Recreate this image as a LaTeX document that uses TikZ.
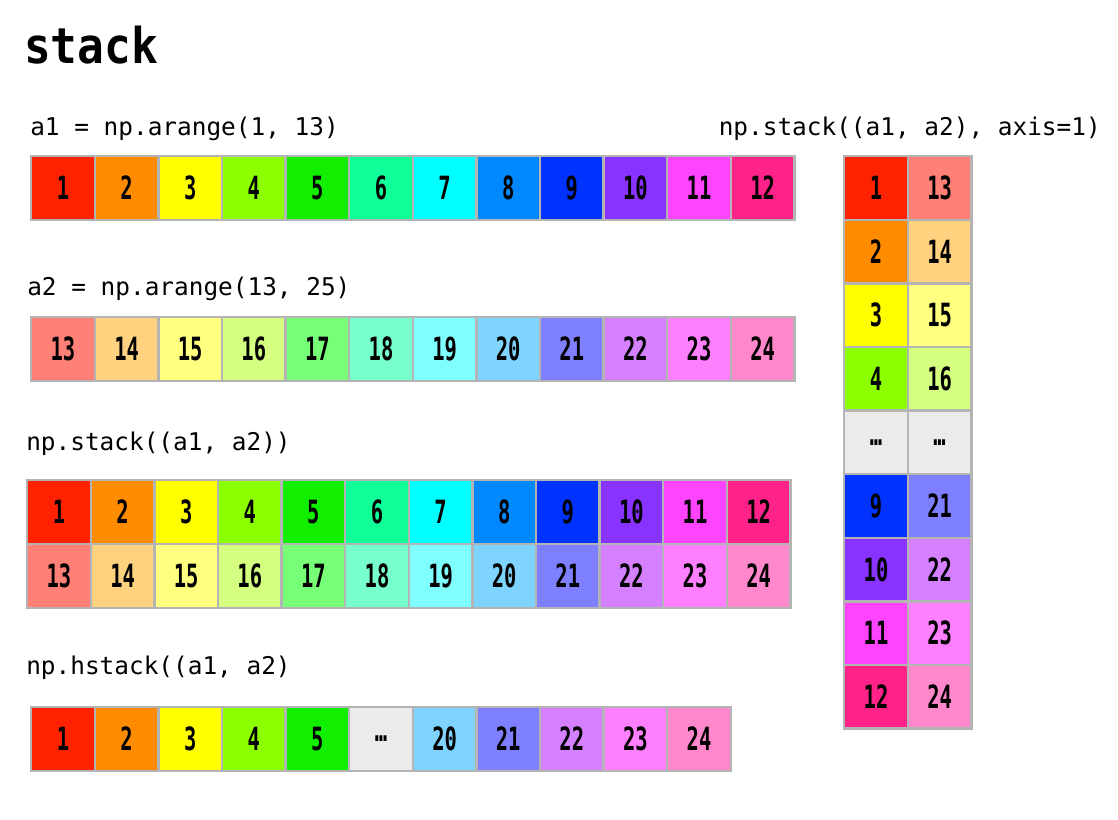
\documentclass[tikz,border=0pt]{standalone}
\usepackage{fontspec}
\setmonofont{DejaVu Sans Mono}
\newfontfamily\cellfont[FakeStretch=0.64]{DejaVu Sans Mono Bold}
\newfontfamily\titlefont[FakeStretch=0.9]{DejaVu Sans Mono Bold}
\usetikzlibrary{positioning}
\definecolor{gitter}{RGB}{180,180,180}
\definecolor{c1}{RGB}{255,34,0}
\definecolor{c2}{RGB}{255,140,0}
\definecolor{c3}{RGB}{255,255,0}
\definecolor{c4}{RGB}{140,255,0}
\definecolor{c5}{RGB}{17,238,0}
\definecolor{c6}{RGB}{17,255,153}
\definecolor{c7}{RGB}{0,255,255}
\definecolor{c8}{RGB}{0,136,255}
\definecolor{c9}{RGB}{0,51,255}
\definecolor{c10}{RGB}{136,51,255}
\definecolor{c11}{RGB}{255,68,255}
\definecolor{c12}{RGB}{255,34,136}
\definecolor{c13}{RGB}{255,128,119}
\definecolor{c14}{RGB}{255,210,127}
\definecolor{c15}{RGB}{255,255,128}
\definecolor{c16}{RGB}{212,255,128}
\definecolor{c17}{RGB}{119,255,119}
\definecolor{c18}{RGB}{119,255,204}
\definecolor{c19}{RGB}{128,255,255}
\definecolor{c20}{RGB}{127,212,255}
\definecolor{c21}{RGB}{127,128,255}
\definecolor{c22}{RGB}{212,128,255}
\definecolor{c23}{RGB}{255,128,255}
\definecolor{c24}{RGB}{255,136,204}
\definecolor{cx}{RGB}{235,235,235}

\begin{document}
\begin{tikzpicture}[x=0.75pt, y=-0.75pt,
    Zelle/.style={draw=gitter, line width=1.8pt, minimum width=47.7pt, minimum height=47.7pt,
      inner sep=0pt, anchor=north west, font=\cellfont\fontsize{24}{24}\selectfont},
    Code/.style={inner sep=0pt, anchor=base west, font=\ttfamily\fontsize{18.3}{18}\selectfont}]
  \useasboundingbox (0,0) rectangle (1118,820);

  % Titel und Beschriftungen
  \node[inner sep=0pt, anchor=base west, font=\titlefont\fontsize{37}{37}\selectfont] (titel) at (24,64) {stack};
  \node[Code] (lab-a1) at (30,136) {a1 = np.arange(1, 13)};
  \node[Code] (lab-a2) at (27,296) {a2 = np.arange(13, 25)};
  \node[Code] (lab-st) at (26,450) {np.stack((a1, a2))};
  \node[Code] (lab-hs) at (26,674) {np.hstack((a1, a2)};
  \node[Code, anchor=base east] (lab-ax) at (1101,136) {np.stack((a1, a2), axis=1)};

  % a1 und a2
  \foreach \i in {1,...,12} {
    \pgfmathtruncatemacro{\j}{\i+12}
    \node[Zelle, fill=c\i] (a1-\i) at ({30+(\i-1)*63.6},155) {\i};
    \node[Zelle, fill=c\j] (a2-\i) at ({30+(\i-1)*63.6},316) {\j};
    % np.stack
    \node[Zelle, fill=c\i] (s1-\i) at ({26+(\i-1)*63.6},479) {\i};
    \node[Zelle, fill=c\j] (s2-\i) at ({26+(\i-1)*63.6},543) {\j};
  }

  % np.hstack
  \foreach \w/\f [count=\k from 0] in {1/c1,2/c2,3/c3,4/c4,5/c5,…/cx,20/c20,21/c21,22/c22,23/c23,24/c24}
    \node[Zelle, fill=\f] (h-\k) at ({30+\k*63.6},706) {\w};

  % axis=1
  \foreach \l/\r/\fl/\fr [count=\k from 0] in {1/13/c1/c13,2/14/c2/c14,3/15/c3/c15,4/16/c4/c16,
      …/…/cx/cx,9/21/c9/c21,10/22/c10/c22,11/23/c11/c23,12/24/c12/c24} {
    \node[Zelle, fill=\fl] (v1-\k) at (843,{155+\k*63.6}) {\l};
    \node[Zelle, fill=\fr] (v2-\k) at (906.6,{155+\k*63.6}) {\r};
  }
\end{tikzpicture}
\end{document}
